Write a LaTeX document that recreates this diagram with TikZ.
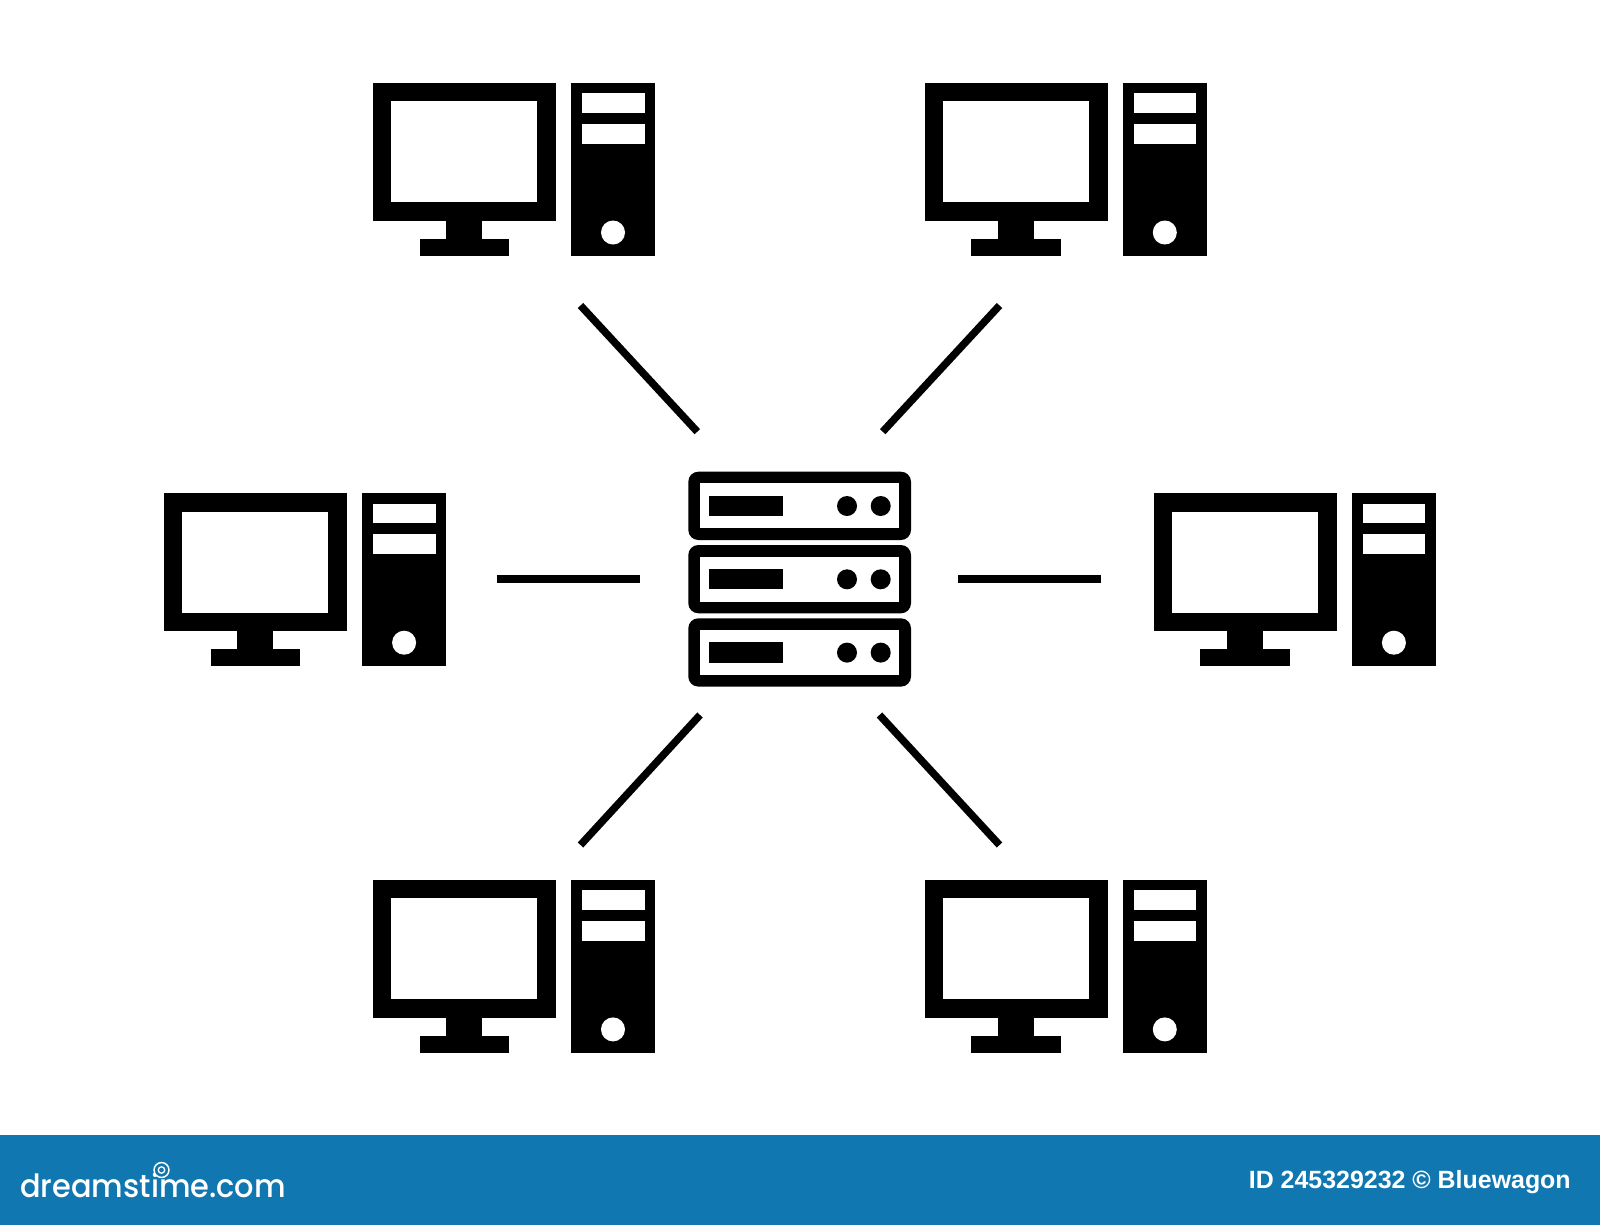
\documentclass[tikz,border=0pt]{standalone}
\usepackage{fontspec}
\setmainfont{Liberation Sans}
\newfontfamily\logofont[UprightFont=* Medium,FakeStretch=0.95]{Poppins}
\definecolor{barblue}{HTML}{1177B0}
\tikzset{
  x=0.75pt,y=-0.75pt,
  link/.style={line width=5.6pt,black},
  computer/.pic={
    \fill[black] (0,0) rectangle (183,138.3);
    \fill[white] (18.6,18.6) rectangle (164.6,119.6);
    \fill[black] (73.3,138.3) rectangle (109.3,156.5);
    \fill[black] (46.8,156.5) rectangle (136.3,173.3);
    \fill[black] (198.3,0) rectangle (282.3,173.3);
    \fill[white] (209.3,10.6) rectangle (271.8,30.3);
    \fill[white] (209.3,41.3) rectangle (271.8,61);
    \fill[white] (240.3,149.8) circle (9pt);
  },
  rackunit/.pic={
    \fill[black,rounded corners=7.5pt] (0,0) rectangle (222.7,68.3);
    \fill[white] (11.7,11.7) rectangle (211,56.7);
    \fill[black] (20.7,24) rectangle (94.7,44.3);
    \fill[black] (158.7,34.3) circle (7.5pt);
    \fill[black] (192.4,34.3) circle (7.5pt);
  },
}
\begin{document}
\begin{tikzpicture}
\useasboundingbox (0,0) rectangle (1600,1225);
\fill[white] (0,0) rectangle (1600,1225);
\fill[barblue] (0,1135) rectangle (1600,1225);
% computers
\pic at (372.7,82.7) {computer};
\pic at (924.5,82.7) {computer};
\pic at (163.8,492.9) {computer};
\pic at (1153.6,492.9) {computer};
\pic at (372.7,879.6) {computer};
\pic at (924.5,879.6) {computer};
% server
\pic at (688.3,471.7) {rackunit};
\pic at (688.3,545) {rackunit};
\pic at (688.3,618.3) {rackunit};
% link ends
\coordinate (a1) at (580.5,305.5);
\coordinate (a2) at (697.3,431.7);
\coordinate (b1) at (999.5,305.5);
\coordinate (b2) at (882.7,431.7);
\coordinate (c1) at (496.7,579);
\coordinate (c2) at (639.7,579);
\coordinate (d1) at (958,579);
\coordinate (d2) at (1100.7,579);
\coordinate (e1) at (700,715);
\coordinate (e2) at (580.5,845);
\coordinate (f1) at (879.5,715);
\coordinate (f2) at (999.5,845);
\draw[link] (a1) -- (a2);
\draw[link] (b1) -- (b2);
\draw[link] (c1) -- (c2);
\draw[link] (d1) -- (d2);
\draw[link] (e1) -- (e2);
\draw[link] (f1) -- (f2);
% footer
\node[anchor=base west,inner sep=0pt,text=white,font=\logofont\fontsize{24}{24}\selectfont] (logo) at (20,1197.5) {dreamstime.com};
\node[anchor=base east,inner sep=0pt,text=white,font=\bfseries\fontsize{18.7}{18.7}\selectfont] (credit) at (1571,1188) {ID 245329232 © Bluewagon};
\coordinate (sw) at (161.5,1170);
\draw[white,fill=barblue,line width=1.1pt] (sw) circle (5.6pt);
\draw[white,line width=1pt] (sw) circle (2.4pt);
\end{tikzpicture}
\end{document}
